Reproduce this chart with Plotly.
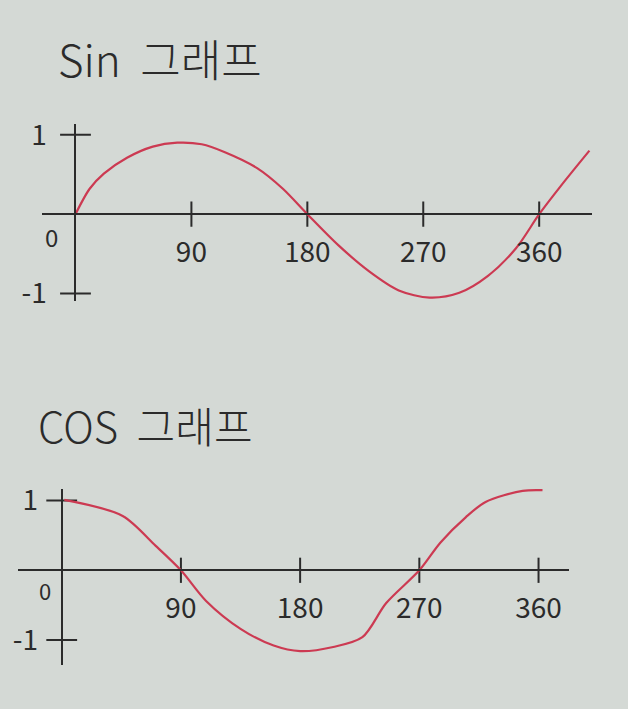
import plotly.graph_objects as go

sin_x = [0, 11, 22, 40, 60, 79, 98, 116, 141, 161, 180, 204, 228, 251, 275, 298, 320, 342, 360, 377, 399]
sin_y = [0, 0.32, 0.51, 0.71, 0.85, 0.90, 0.88, 0.78, 0.58, 0.32, 0, -0.39, -0.72, -0.96, -1.05, -0.99, -0.78, -0.43, 0, 0.36, 0.80]

cos_x = [2, 46, 71, 90, 109, 135, 160, 180, 205, 227, 245, 270, 286, 305, 320, 348, 363]
cos_y = [1.01, 0.78, 0.35, 0, -0.44, -0.84, -1.08, -1.16, -1.10, -0.96, -0.47, 0, 0.40, 0.76, 0.98, 1.14, 1.15]

x_ticks = [90, 180, 270, 360]
y_ticks = [-1, 1]
y_tick_labels = ["-1", "1"]

titles = ["Sin  그래프", "COS  그래프"]

W, H = 628, 709
paper_bg = "#d4d9d5"
ink = "#2b2b2b"
red = "#cc3a52"
font = "Noto Sans CJK KR"

# zones des deux graphiques (pixels)
panels = [
    dict(x=sin_x, y=sin_y, px=(42, 592), py=(116, 298), xr=(-26, 401), yr=(-1.09, 1.13), ystand=22),
    dict(x=cos_x, y=cos_y, px=(18, 569), py=(492, 674), xr=(-33, 383), yr=(-1.36, 1.17), ystand=17),
]

fig = go.Figure()
layout = {}
for i, p in enumerate(panels):
    n = "" if i == 0 else str(i + 1)
    xa, ya = "x" + n, "y" + n
    xdom = [p["px"][0] / W, p["px"][1] / W]
    ydom = [1 - p["py"][1] / H, 1 - p["py"][0] / H]
    # position des axes à 0
    y0 = ydom[0] + (0 - p["yr"][0]) / (p["yr"][1] - p["yr"][0]) * (ydom[1] - ydom[0])
    x0 = xdom[0] + (0 - p["xr"][0]) / (p["xr"][1] - p["xr"][0]) * (xdom[1] - xdom[0])

    layout["xaxis" + n] = dict(
        domain=xdom, range=list(p["xr"]), anchor="free", position=y0,
        showline=True, linecolor=ink, linewidth=2, showgrid=False, zeroline=False,
        tickvals=x_ticks, ticks="", ticklabelstandoff=13,
        tickfont=dict(family=font, size=28, color=ink, weight=400),
    )
    layout["yaxis" + n] = dict(
        domain=ydom, range=list(p["yr"]), anchor="free", position=x0,
        showline=True, linecolor=ink, linewidth=2, showgrid=False, zeroline=False,
        tickvals=y_ticks, ticktext=y_tick_labels, ticks="", ticklabelstandoff=p["ystand"],
        tickfont=dict(family=font, size=28, color=ink, weight=400),
    )

    # petites croix de graduation
    fig.add_trace(go.Scatter(
        x=x_ticks, y=[0] * len(x_ticks), xaxis=xa, yaxis=ya, mode="markers",
        marker=dict(symbol="line-ns", size=18, line=dict(color=ink, width=2)),
        hoverinfo="skip", showlegend=False,
    ))
    fig.add_trace(go.Scatter(
        x=[0] * len(y_ticks), y=y_ticks, xaxis=xa, yaxis=ya, mode="markers",
        marker=dict(symbol="line-ew", size=22, line=dict(color=ink, width=2)),
        hoverinfo="skip", showlegend=False,
    ))

    # la courbe
    fig.add_trace(go.Scatter(
        x=p["x"], y=p["y"], xaxis=xa, yaxis=ya, mode="lines",
        line=dict(color=red, width=2.2, shape="spline", smoothing=0.85),
        showlegend=False,
    ))

annotations = [
    dict(text=titles[0], xref="paper", yref="paper", x=56 / W, y=1 - 47 / H,
         xanchor="left", yanchor="middle", showarrow=False,
         font=dict(family=font, size=44, color=ink, weight=300)),
    dict(text=titles[1], xref="paper", yref="paper", x=36 / W, y=1 - 426 / H,
         xanchor="left", yanchor="middle", showarrow=False,
         font=dict(family=font, size=42, color=ink, weight=300)),
    dict(text="0", xref="x", yref="y", x=0, y=0, xshift=-24, yshift=-22,
         showarrow=False, font=dict(family=font, size=24, color=ink, weight=400)),
    dict(text="0", xref="x2", yref="y2", x=0, y=0, xshift=-17, yshift=-20,
         showarrow=False, font=dict(family=font, size=22, color=ink, weight=400)),
]

fig.update_layout(
    width=W, height=H, margin=dict(l=0, r=0, t=0, b=0),
    paper_bgcolor=paper_bg, plot_bgcolor=paper_bg,
    annotations=annotations, **layout,
)

fig.write_html("out.html", config={"displayModeBar": False},
               post_script="document.body.style.margin='0';")
